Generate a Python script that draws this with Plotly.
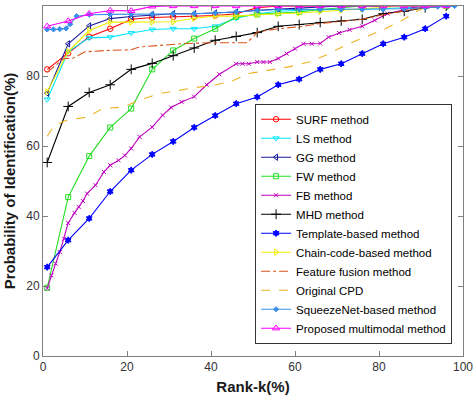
import plotly.graph_objects as go

# ---------------- data ----------------
rank_x = [1, 6, 11, 16, 21, 26, 31, 36, 41, 46, 51, 56, 61, 66, 71, 76, 81, 86, 91, 96]

surf = [81.9, 86.5, 91.2, 93.5, 96.2, 96.7, 96.9, 96.9, 97.3, 97.8, 99.5, 100, 100, 100, 100, 100, 100, 100, 100, 100]
ls = [73.3, 87.0, 90.9, 91.1, 92.3, 93.3, 93.5, 93.5, 94.2, 96.5, 97.8, 98.5, 98.8, 99.0, 99.0, 99.0, 99.2, 99.5, 99.8, 100]
gg = [75.1, 89.2, 94.3, 96.4, 97.0, 97.5, 97.8, 97.8, 98.0, 98.3, 98.8, 99.2, 99.4, 99.7, 100, 100, 100, 100, 100, 100]
fw = [19.5, 45.4, 57.1, 65.3, 70.7, 81.9, 87.3, 90.7, 93.5, 96.9, 97.6, 98.0, 98.3, 99.0, 99.5, 100, 100, 100, 100, 100]
mhd = [55.3, 71.3, 75.3, 77.5, 81.9, 83.6, 85.8, 88.0, 90.2, 91.3, 92.4, 94.2, 94.7, 95.3, 95.7, 96.2, 97.8, 98.5, 99.5, 100]
template = [25.4, 33.1, 39.3, 47.0, 53.1, 57.6, 61.3, 65.3, 68.7, 72.1, 74.0, 77.5, 79.1, 81.9, 83.5, 86.4, 89.2, 91.1, 93.5, 97.1]
chain = [75.5, 87.0, 93.0, 95.4, 95.4, 95.4, 95.5, 96.5, 97.1, 97.1, 97.5, 97.8, 98.0, 98.5, 98.8, 99.2, 99.6, 100, 100, 100]
proposed = [94.2, 95.7, 97.8, 98.7, 98.6, 99.9, 100, 100, 100, 100, 100, 100, 100, 100, 100, 100, 100, 100, 100, 100]

fb_x = [1, 2, 3, 4, 5, 6, 7.5, 8.5, 9.5, 10.5, 12.5, 14.5, 16, 18, 19.5, 21, 23, 26, 28.5, 30.5,
        33, 36, 39, 42, 46, 47.5, 49, 51, 52.5, 54, 56, 58, 60, 62, 64, 66, 68, 70.5, 73, 76,
        79, 82, 85.5, 88, 91, 96]
fb_y = [19.3, 23.0, 26.4, 29.7, 33.5, 38.0, 40.9, 42.6, 44.3, 46.4, 48.8, 52.6, 54.5, 55.9, 57.3,
        59.3, 62.6, 65.4, 68.8, 71.0, 72.6, 74.1, 77.5, 80.5, 83.5, 83.5, 83.5, 84.0, 84.0, 84.0,
        85.0, 86.4, 87.8, 89.2, 89.2, 89.3, 91.1, 92.3, 93.2, 94.2, 95.9, 97.8, 98.8, 99.5, 100, 100]

ff_x = [1, 5, 7, 10, 15, 21, 23, 29, 34, 40, 48.5, 50, 51, 56, 62, 66, 70, 76, 81, 86, 90, 96]
ff_y = [81.1, 85.0, 85.0, 86.9, 87.3, 87.5, 88.3, 88.8, 89.3, 89.5, 89.5, 91.1, 92.6, 93.5, 94.2,
        95.0, 95.5, 96.2, 97.5, 98.5, 99.5, 100]

cpd_x = [1, 2.7, 5.5, 10.6, 14.2, 19, 23, 27.7, 32.4, 35.6, 40.3, 45, 49, 53.8, 58.5, 63.3, 67.3,
         72, 76.8, 81.5, 85.5, 89.4, 92, 96]
cpd_y = [62.8, 65.9, 67.3, 68.3, 70.7, 71.1, 73.1, 75.0, 75.9, 76.6, 77.3, 78.5, 80.7, 81.6, 82.6,
         84.0, 85.9, 88.8, 91.1, 93.5, 95.9, 98.8, 100, 100]

sq_x = [1, 2.5, 4, 5.5, 6.5, 8, 11, 16, 21, 26, 31, 36, 41, 46, 51, 56, 61, 66, 71, 76, 81, 86,
        91, 94, 96, 98]
sq_y = [93.3, 93.3, 93.4, 93.6, 94.8, 97.1, 97.5, 97.6, 97.6, 97.7, 97.8, 97.8, 98.0, 98.3, 98.8,
        99.0, 99.0, 99.0, 99.0, 99.0, 99.0, 99.2, 99.5, 99.8, 100, 100]

x_ticks = [0, 20, 40, 60, 80, 100]
y_ticks = [0, 20, 40, 60, 80, 100]

# ---------------- figure ----------------
fig = go.Figure()

def add(x, y, name, color, symbol=None, size=6, dash="solid", width=1.1):
    mode = "lines+markers" if symbol else "lines"
    kw = dict(x=x, y=y, name=name, mode=mode,
              line=dict(color=color, width=width, dash=dash))
    if symbol:
        kw["marker"] = dict(symbol=symbol, size=size, color=color,
                            line=dict(color=color, width=1))
    fig.add_trace(go.Scatter(**kw))

add(rank_x, surf, "SURF method", "#FF0000", "circle-open", 5.5)
add(rank_x, ls, "LS method", "#00E5FF", "triangle-down-open", 5.5)
add(rank_x, gg, "GG method", "#1A1A9A", "triangle-left-open", 5.5)
add(rank_x, fw, "FW method", "#22DD22", "square-open", 5)
add(fb_x, fb_y, "FB method", "#BF00BF", "x-thin-open", 4)
add(rank_x, mhd, "MHD method", "#000000", "cross-thin-open", 7)
add(rank_x, template, "Template-based method", "#0000FF", "hexagram", 5)
add(rank_x, chain, "Chain-code-based method", "#EEEE00", "triangle-right-open", 5.5)
add(ff_x, ff_y, "Feature fusion method", "#D95319", None, dash="dashdot")
add(cpd_x, cpd_y, "Original CPD", "#EDB120", None, dash="dash")
add(sq_x, sq_y, "SqueezeNet-based method", "#3A8FE8", "diamond", 4)
add(rank_x, proposed, "Proposed multimodal method", "#FF00FF", "triangle-up-open", 6.5)

axis_common = dict(
    showgrid=False, zeroline=False, showline=True, linecolor="#808080", linewidth=1,
    mirror="ticks", ticks="inside", ticklen=5, tickcolor="#808080", automargin=False,
    tickfont=dict(family="Arial, Liberation Sans", size=12, color="#333333"),
)

fig.update_xaxes(range=[0, 100], tickvals=x_ticks, ticktext=[str(v) for v in x_ticks],
                 title=dict(text="<b>Rank-k(%)</b>", standoff=8,
                            font=dict(family="Arial, Liberation Sans", size=15, color="#1a1a1a")),
                 **axis_common)
fig.update_yaxes(range=[0, 100], tickvals=y_ticks, ticktext=[str(v) for v in y_ticks],
                 title=dict(text="<b>Probability of Identification(%)</b>", standoff=6,
                            font=dict(family="Arial, Liberation Sans", size=15, color="#1a1a1a")),
                 **axis_common)

fig.update_layout(
    width=474, height=398,
    margin=dict(l=43, r=11, t=6, b=42, autoexpand=False),
    paper_bgcolor="white", plot_bgcolor="white",
    font=dict(family="Arial, Liberation Sans", size=12, color="#000000"),
    legend=dict(x=0.505, y=0.035, xanchor="left", yanchor="bottom",
                bgcolor="white", bordercolor="#333333", borderwidth=1,
                font=dict(family="Arial, Liberation Sans", size=11.5, color="#000000"),
                tracegroupgap=0, itemwidth=30),
    showlegend=True,
)

fig.write_html("out.html",
               config={"displayModeBar": False},
               post_script="document.body.style.margin='0';document.body.style.overflow='hidden';")
